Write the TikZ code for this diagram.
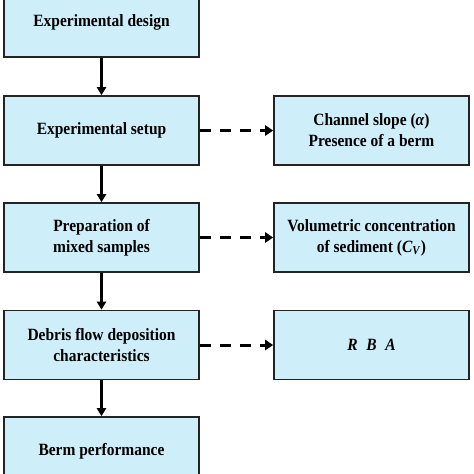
\documentclass[tikz,border=0pt]{standalone}
\usepackage{fontspec}
\setmainfont{Liberation Serif}[FakeStretch=0.9]
\usetikzlibrary{arrows.meta}
\definecolor{boxfill}{RGB}{206,238,250}
\definecolor{boxline}{RGB}{35,35,35}
\begin{document}
\begin{tikzpicture}[x=1pt,y=-1pt,
  stepbox/.style={draw=boxline,line width=1.6pt,fill=boxfill,minimum width=195pt,minimum height=69pt,
    align=center,inner sep=0pt,font=\fontsize{17.2}{21}\selectfont\bfseries},
  solidarrow/.style={line width=2.4pt,-{Triangle[length=8pt,width=9pt]}},
  dasharrow/.style={line width=3pt,dash pattern=on 11pt off 9pt,-{Triangle[length=8pt,width=10pt]}}]
\clip (0,0) rectangle (474,474);
\fill[white] (0,0) rectangle (474,474);
\node[stepbox] (a) at (101.5,22.5) {Experimental design};
\node[stepbox] (b) at (101.5,130.5) {Experimental setup};
\node[stepbox] (c) at (101.5,237.5) {Preparation of\\mixed samples};
\node[stepbox] (d) at (101.5,345) {Debris flow deposition\\characteristics};
\node[stepbox] (e) at (101.5,451.5) {Berm performance};
\node[stepbox] (f) at (371.5,130.5) {Channel slope (\textit{α})\\Presence of a berm};
\node[stepbox] (g) at (371.5,237.5) {Volumetric concentration\\of sediment (\textit{C}\textsubscript{\textit{V}})};
\node[stepbox] (h) at (371.5,345) {\textit{R\enspace B\enspace A}};
\draw[solidarrow] (a) -- (b);
\draw[solidarrow] (b) -- (c);
\draw[solidarrow] (c) -- (d);
\draw[solidarrow] (d) -- (e);
\draw[dasharrow] (b) -- (f);
\draw[dasharrow] (c) -- (g);
\draw[dasharrow] (d) -- (h);
\end{tikzpicture}
\end{document}
